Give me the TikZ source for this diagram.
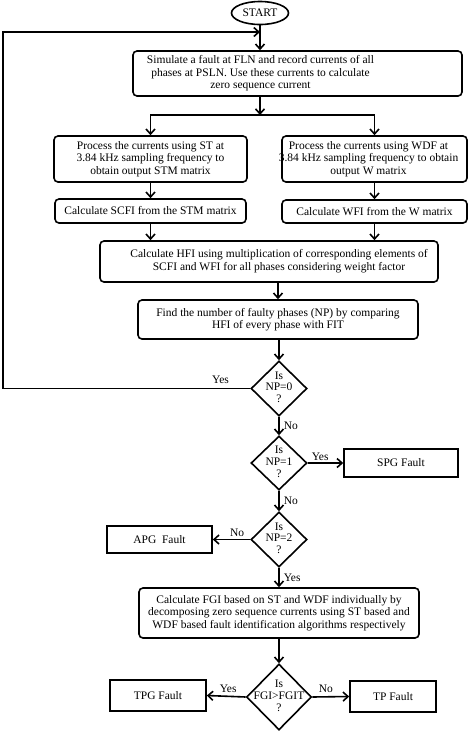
\documentclass[tikz,border=0pt]{standalone}
\usepackage{fontspec}
\setmainfont{Liberation Serif}
\usetikzlibrary{shapes.geometric,arrows.meta}

\newcommand{\asktext}[1]{\makebox[0pt]{\begin{tabular}{@{}c@{}}#1\end{tabular}}}

\tikzset{
  proc/.style={draw, rounded corners=4pt, line width=1.6pt, inner sep=0pt},
  result/.style={draw, line width=1.6pt, inner sep=0pt},
  decision/.style={draw, diamond, line width=1.6pt, inner sep=0pt, font=\fontsize{11.5}{11.8}\selectfont},
  flow/.style={line width=1.6pt, -{Straight Barb[length=5pt,width=9pt]}},
  lbl/.style={inner sep=1pt}
}

\begin{document}
\begin{tikzpicture}[x=1pt, y=-1pt, font=\fontsize{11.5}{12.5}\selectfont]
  \useasboundingbox (0,0) rectangle (474,732);

  % Inicio y simulacion
  \node[draw, ellipse, line width=1.6pt, minimum width=57pt, minimum height=23pt, inner sep=0pt] (start) at (260,13) {START};
  \node[proc, minimum width=329pt, minimum height=45pt] (sim) at (297.5,73.5) {\begin{tabular}{@{}c@{}}Simulate a fault at FLN and record currents of all\\phases at PSLN. Use these currents to calculate\\zero sequence current\end{tabular}\hspace*{74pt}};

  % Ramas ST y WDF
  \node[proc, align=center, minimum width=193pt, minimum height=46pt] (st) at (150.5,159) {Process the currents using ST at\\3.84 kHz sampling frequency to\\obtain output STM matrix};
  \node[proc, minimum width=185pt, minimum height=46pt] (wdf) at (374.5,159) {\makebox[170pt]{\begin{tabular}{@{}c@{}}Process the currents using WDF at\\3.84 kHz sampling frequency to obtain\\output W matrix\end{tabular}}\hspace*{12pt}};
  \node[proc, minimum width=191pt, minimum height=24pt] (scfi) at (150.5,211) {Calculate SCFI from the STM matrix};
  \node[proc, minimum width=185pt, minimum height=23pt] (wfi) at (374.5,211.5) {Calculate WFI from the W matrix};

  % HFI y numero de fases
  \node[proc, minimum width=338pt, minimum height=41pt] (hfi) at (269,261.5) {\hspace*{20pt}\begin{tabular}{@{}c@{}}Calculate HFI using multiplication of corresponding elements of\\SCFI and WFI for all phases considering weight factor\end{tabular}};
  \node[proc, align=center, minimum width=280pt, minimum height=39pt] (np) at (278,319.5) {Find the number of faulty phases (NP) by comparing\\HFI of every phase with FIT};

  % Decisiones
  \node[decision, minimum width=56pt, minimum height=55pt] (d0) at (279,388.5) {\asktext{Is\\NP=0\\?}};
  \node[decision, minimum width=56pt, minimum height=54pt] (d1) at (279,463) {\asktext{Is\\NP=1\\?}};
  \node[result, minimum width=114pt, minimum height=28pt] (spg) at (401,463) {SPG Fault};
  \node[decision, minimum width=56pt, minimum height=55pt] (d2) at (279,539.5) {\asktext{Is\\NP=2\\?}};
  \node[result, minimum width=105pt, minimum height=27pt] (apg) at (159.5,539.5) {APG\ \ Fault};
  \node[proc, align=center, minimum width=280pt, minimum height=50pt] (fgi) at (279,613) {Calculate FGI based on ST and WDF individually by\\decomposing zero sequence currents using ST based and\\WDF based fault identification algorithms respectively};
  \node[decision, minimum width=65pt, minimum height=66pt] (d3) at (279,697) {\asktext{Is\\FGI>FGIT\\?}};
  \node[result, minimum width=96pt, minimum height=31pt] (tpg) at (158,695.5) {TPG Fault};
  \node[result, minimum width=86pt, minimum height=31pt] (tp) at (393,696.5) {TP Fault};

  % Conexiones
  \coordinate (loop) at (260,32);
  \coordinate (edge) at (3,32);
  \coordinate (split) at (260,115);
  \draw[flow] (start.south) -- (sim.north -| start.south);
  \draw[flow] (sim.south -| start.south) -- (split);
  \draw[flow] (split) -| (st.north);
  \draw[flow] (split) -| (wdf.north);
  \draw[flow] (st.south) -- (scfi.north);
  \draw[flow] (wdf.south) -- (wfi.north);
  \draw[flow] (scfi.south) -- (scfi.south |- hfi.north);
  \draw[flow] (wfi.south) -- (wfi.south |- hfi.north);
  \draw[flow] (np.north |- hfi.south) -- (np.north);
  \draw[flow] (np.south -| d0.north) -- (d0.north);
  \draw[flow] (d0.west) -| node[lbl, pos=0.06, above=3pt] (yes0) {Yes} (edge) -- (loop);
  \draw[flow] (d0.south) -- node[lbl, right=3pt] (no0) {No} (d1.north);
  \draw[flow] (d1.east) -- node[lbl, pos=0.35, above=1pt] (yes1) {Yes} (spg.west);
  \draw[flow] (d1.south) -- node[lbl, right=3pt] (no1) {No} (d2.north);
  \draw[flow] (d2.west) -- node[lbl, pos=0.35, above=1pt] (no2) {No} (apg.east);
  \draw[flow] (d2.south) -- node[lbl, right=3pt] (yes2) {Yes} (fgi.north);
  \draw[flow] (fgi.south) -- (d3.north);
  \draw[flow] (d3.west) -- node[lbl, pos=0.45, above=2pt] (yes3) {Yes} (tpg.east);
  \draw[flow] (d3.east) -- node[lbl, pos=0.37, above=2pt] (no3) {No} (tp.west);
\end{tikzpicture}
\end{document}
